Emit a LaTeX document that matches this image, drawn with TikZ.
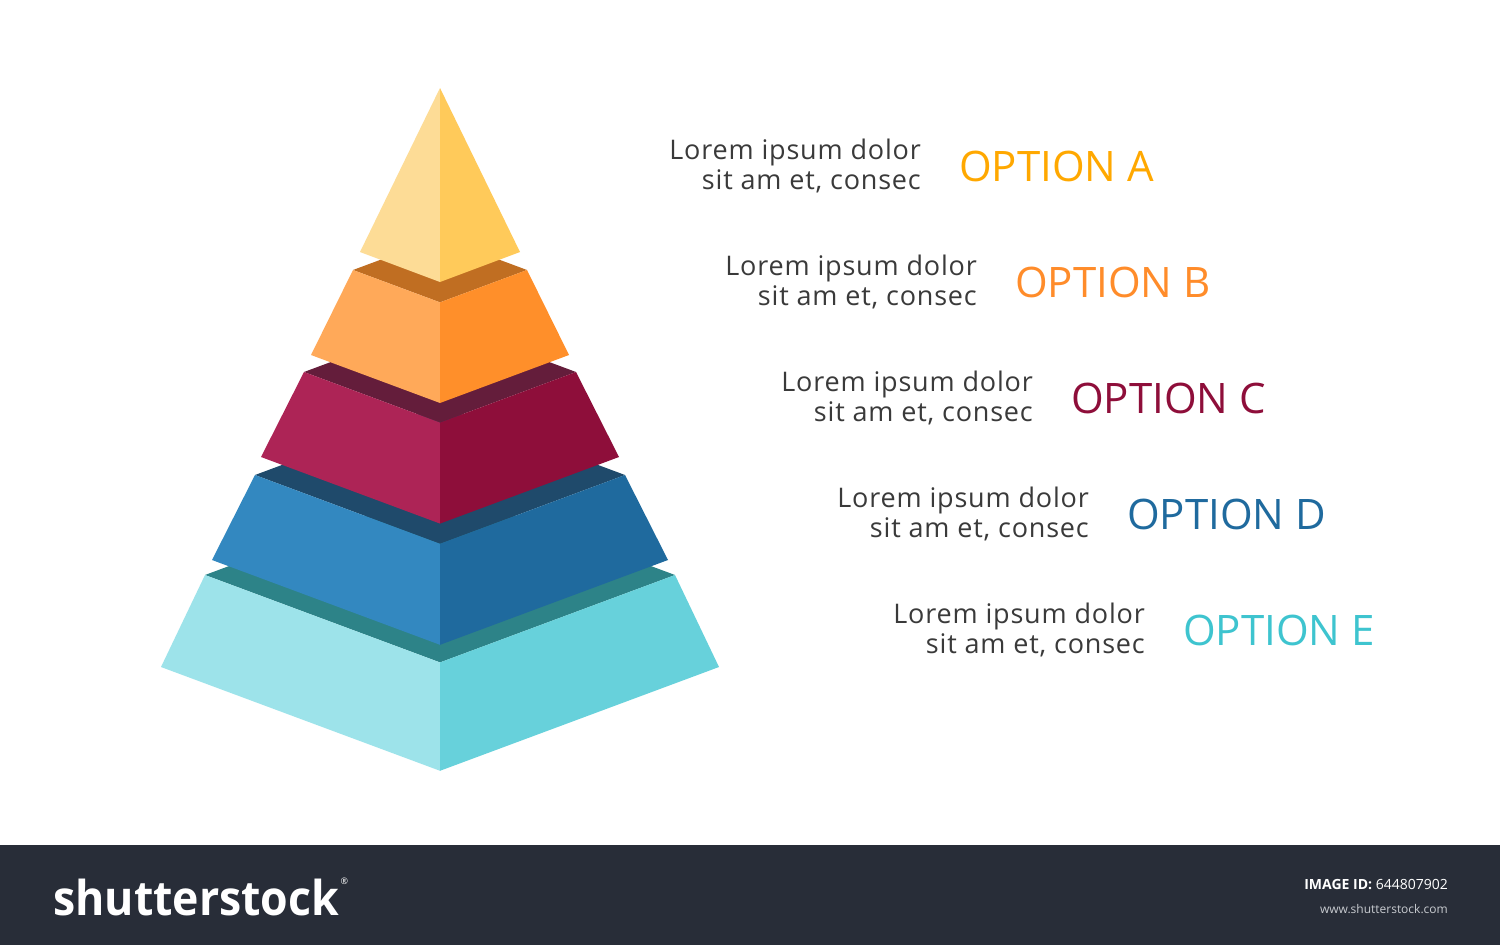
\documentclass[tikz,border=0pt]{standalone}
\usepackage{fontspec}
\setmainfont{Open Sans}
\usetikzlibrary{positioning}

\definecolor{leftA}{HTML}{FDDC96}
\definecolor{rightA}{HTML}{FFCA5A}
\definecolor{topB}{HTML}{C06E22}
\definecolor{leftB}{HTML}{FFA959}
\definecolor{rightB}{HTML}{FF8F2A}
\definecolor{topC}{HTML}{641D3B}
\definecolor{leftC}{HTML}{AD2456}
\definecolor{rightC}{HTML}{8E0E3A}
\definecolor{topD}{HTML}{1F4A6B}
\definecolor{leftD}{HTML}{3388C0}
\definecolor{rightD}{HTML}{1F6A9E}
\definecolor{topE}{HTML}{2D8388}
\definecolor{leftE}{HTML}{9DE3EA}
\definecolor{rightE}{HTML}{67D1DB}
\definecolor{optA}{HTML}{FFA800}
\definecolor{optB}{HTML}{FF8C2A}
\definecolor{optC}{HTML}{8E0E3A}
\definecolor{optD}{HTML}{1F6A9E}
\definecolor{optE}{HTML}{3EC4CF}
\definecolor{descC}{HTML}{3A3A3A}
\definecolor{barC}{HTML}{282D38}
\definecolor{siteC}{HTML}{C8CBD0}

\begin{document}
\begin{tikzpicture}
  [x=1pt,y=-1pt,
   descN/.style={anchor=east,align=right,inner sep=0pt,text=descC,
                 font=\fontsize{27}{30}\selectfont\addfontfeature{LetterSpace=3}},
   optN/.style={inner sep=0pt,font=\fontsize{42}{42}\selectfont},
   barN/.style={inner sep=0pt,text=white}
  ]

  \useasboundingbox (0,0) rectangle (1500,945);
  \fill[white] (0,0) rectangle (1500,945);

  % layers of the pyramid, bottom one first
  \foreach \yt/\wt/\yb/\wb/\l in {575/235/667/279/E,475/185/560/228/D,372/136/457/179/C,270/87/355/129/B} {
     \fill[top\l] ({440-\wt},\yt) -- (440,{\yt-0.372*\wt}) -- ({440+\wt},\yt) -- (440,{\yt+0.372*\wt}) -- cycle;
     \fill[left\l] ({440-\wt},\yt) -- (440,{\yt+0.372*\wt}) -- (440,{\yb+0.372*\wb}) -- ({440-\wb},\yb) -- cycle;
     \fill[right\l] ({440+\wt},\yt) -- (440,{\yt+0.372*\wt}) -- (440,{\yb+0.372*\wb}) -- ({440+\wb},\yb) -- cycle;
  }

  % tip
  \fill[leftA] (440,88) -- (360,252) -- (440,282) -- cycle;
  \fill[rightA] (440,88) -- (440,282) -- (520,252) -- cycle;

  % labels
  \foreach \l [count=\i from 0] in {A,B,C,D,E} {
     \node[descN] (desc\l) at ({921+56*\i},{166+116*\i}) {Lorem ipsum dolor\\sit am et, consec};
     \node[optN,text=opt\l,right=38pt of desc\l] (opt\l) {OPTION \l};
  }

  % bottom bar
  \fill[barC] (0,845) rectangle (1500,945);
  \node[barN,anchor=base west,font=\bfseries\fontsize{48}{48}\selectfont\addfontfeature{FakeStretch=0.93}] (logo) at (53,915) {shutterstock};
  \node[barN,anchor=south west,font=\fontsize{9}{9}\selectfont] (reg) at ([xshift=1pt,yshift=-6pt]logo.north east) {®};
  \node[barN,anchor=base east,font=\fontsize{14}{14}\selectfont] (imgId) at (1448,889) {\textbf{IMAGE ID:} 644807902};
  \node[barN,anchor=base east,text=siteC,font=\fontsize{12}{12}\selectfont] (site) at (1448,913) {www.shutterstock.com};

\end{tikzpicture}
\end{document}
